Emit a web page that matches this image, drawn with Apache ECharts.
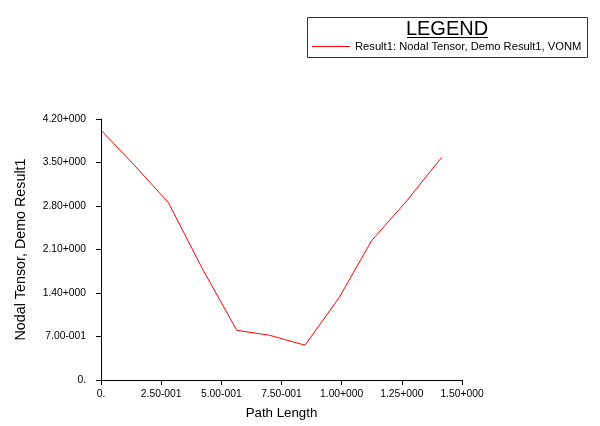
<!DOCTYPE html>
<html>
<head>
<meta charset="utf-8">
<script src="https://cdn.jsdelivr.net/npm/echarts@6/dist/echarts.min.js"></script>
<style>
  html, body { margin: 0; padding: 0; background: #fff; }
  #chart { width: 600px; height: 426px; }
</style>
</head>
<body>
<div id="chart"></div>
<script>
// path length vs nodal tensor (VONM)
const pathLen = [0, 0.14, 0.28, 0.42, 0.564, 0.70, 0.848, 0.99, 1.125, 1.27, 1.415];
const vonm = [4.02, 3.45, 2.855, 1.80, 0.80, 0.72, 0.56, 1.33, 2.245, 2.88, 3.58];

const xTicks = [0, 0.25, 0.5, 0.75, 1.0, 1.25, 1.5];
const xTickLabels = ['0.', '2.50-001', '5.00-001', '7.50-001', '1.00+000', '1.25+000', '1.50+000'];
const yTicks = [0, 0.7, 1.4, 2.1, 2.8, 3.5, 4.2];
const yTickLabels = ['0.', '7.00-001', '1.40+000', '2.10+000', '2.80+000', '3.50+000', '4.20+000'];

const seriesName = 'Result1: Nodal Tensor, Demo Result1, VONM';

const pickLabel = (ticks, labels) => v => {
  const i = ticks.findIndex(t => Math.abs(t - v) < 1e-6);
  return i >= 0 ? labels[i] : '';
};

const chart = echarts.init(document.getElementById('chart'));
const font = 'Arial, "Liberation Sans", sans-serif';

chart.setOption({
  animation: false,
  grid: { left: 101, right: 138, top: 119, bottom: 46 },
  graphic: [
    {
      type: 'rect',
      shape: { x: 307.5, y: 17.5, width: 280, height: 40 },
      style: { fill: '#fff', stroke: '#333', lineWidth: 1 }
    },
    {
      type: 'text',
      x: 447, y: 29,
      style: { text: 'LEGEND', font: '20px ' + font, fill: '#000', align: 'center', verticalAlign: 'middle' }
    },
    {
      type: 'line',
      shape: { x1: 407, y1: 37.5, x2: 488, y2: 37.5 },
      style: { stroke: '#000', lineWidth: 1 }
    }
  ],
  legend: {
    left: 312, top: 41, padding: 0,
    itemWidth: 38, itemHeight: 12, itemGap: 5,
    textStyle: { fontFamily: font, fontSize: 11.2, color: '#000', padding: [0, 0, 0, 0] },
    data: [{ name: seriesName, icon: 'path://M0,5 L38,5 L38,6 L0,6 Z' }]
  },
  xAxis: {
    type: 'value', min: 0, max: 1.5, interval: 0.25,
    name: 'Path Length', nameLocation: 'middle', nameGap: 27,
    nameTextStyle: { fontFamily: font, fontSize: 13.3, color: '#000' },
    axisLine: { lineStyle: { color: '#000', width: 1 } },
    axisTick: { show: true, length: 5, lineStyle: { color: '#000' } },
    axisLabel: { fontFamily: font, fontSize: 10.3, color: '#000', margin: 9, formatter: pickLabel(xTicks, xTickLabels) },
    splitLine: { show: false }
  },
  yAxis: {
    type: 'value', min: 0, max: 4.2, interval: 0.7,
    name: 'Nodal Tensor, Demo Result1', nameLocation: 'middle', nameGap: 73, nameRotate: 90,
    nameTextStyle: { fontFamily: font, fontSize: 14.3, color: '#000' },
    axisLine: { show: true, lineStyle: { color: '#000', width: 1 } },
    axisTick: { show: true, length: 5, lineStyle: { color: '#000' } },
    axisLabel: { fontFamily: font, fontSize: 10.3, color: '#000', margin: 15, formatter: pickLabel(yTicks, yTickLabels) },
    splitLine: { show: false }
  },
  series: [{
    name: seriesName,
    type: 'line',
    showSymbol: false,
    color: '#ff0000',
    lineStyle: { width: 1, color: '#ff0000' },
    data: pathLen.map((x, i) => [x, vonm[i]])
  }]
});
</script>
</body>
</html>
